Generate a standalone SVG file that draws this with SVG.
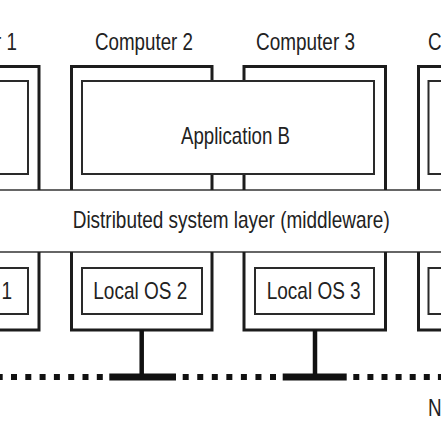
<svg xmlns="http://www.w3.org/2000/svg" width="441" height="441" viewBox="0 0 441 441">
  <style>
    .outer { fill: none; stroke: #1c1c1c; stroke-width: 3; stroke-linejoin: miter; }
    .inner { fill: #fff; stroke: #2a2a2a; stroke-width: 2; }
    .layer { fill: none; stroke: #333; stroke-width: 1.5; }
    .lbl { font-family: "Liberation Sans", Arial, sans-serif; font-size: 24px; fill: #222; }
    .wire { stroke: #111; fill: none; }
    .net { stroke: #111; stroke-width: 6; fill: none; }
  </style>
  <rect x="0" y="0" width="441" height="441" fill="#fff"/>

  <g id="middleware">
    <line class="layer" x1="0" y1="190" x2="441" y2="190"/>
    <line class="layer" x1="0" y1="252" x2="441" y2="252"/>
    <text class="lbl" x="72.7" y="228" textLength="317" lengthAdjust="spacingAndGlyphs">Distributed system layer (middleware)</text>
  </g>

  <g id="computer1">
    <path class="outer" d="M-102,190 V66.5 H39 V190"/>
    <rect class="inner" x="-91" y="81" width="119" height="93"/>
    <path class="outer" d="M-102,252 V330 H39 V252"/>
    <rect class="inner" x="-91" y="268" width="119" height="46"/>
    <text class="lbl" x="-81" y="49.5" textLength="98" lengthAdjust="spacingAndGlyphs">Computer 1</text>
    <text class="lbl" x="-82" y="299" textLength="94" lengthAdjust="spacingAndGlyphs">Local OS 1</text>
  </g>

  <g id="computer2">
    <path class="outer" d="M71.5,190 V66.5 H212 V190"/>
    <path class="outer" d="M71.5,252 V330 H212 V252"/>
    <rect class="inner" x="82" y="268" width="120" height="46"/>
    <text class="lbl" x="95" y="49.5" textLength="98" lengthAdjust="spacingAndGlyphs">Computer 2</text>
    <text class="lbl" x="93.3" y="299" textLength="94" lengthAdjust="spacingAndGlyphs">Local OS 2</text>
  </g>

  <g id="computer3">
    <path class="outer" d="M244,190 V66.5 H385.5 V190"/>
    <path class="outer" d="M244,252 V330 H385.5 V252"/>
    <rect class="inner" x="255" y="268" width="119" height="46"/>
    <text class="lbl" x="256" y="49.5" textLength="99" lengthAdjust="spacingAndGlyphs">Computer 3</text>
    <text class="lbl" x="266.7" y="299" textLength="94" lengthAdjust="spacingAndGlyphs">Local OS 3</text>
  </g>

  <g id="computer4">
    <path class="outer" d="M418.5,190 V66.5 H560 V190"/>
    <rect class="inner" x="428.5" y="81" width="120" height="93"/>
    <path class="outer" d="M418.5,252 V330 H560 V252"/>
    <rect class="inner" x="428.5" y="268" width="120" height="46"/>
    <text class="lbl" x="428" y="49.5" textLength="98" lengthAdjust="spacingAndGlyphs">Computer 4</text>
  </g>

  <g id="applicationB">
    <rect class="inner" x="82" y="81" width="292" height="93"/>
    <text class="lbl" x="181" y="143.5" textLength="109" lengthAdjust="spacingAndGlyphs">Application B</text>
  </g>

  <g id="network">
    <line class="net" x1="-3.3" y1="377" x2="103" y2="377" stroke-dasharray="6 8.3"/>
    <line class="net" x1="182.7" y1="377" x2="277" y2="377" stroke-dasharray="6 8.55"/>
    <line class="net" x1="353.3" y1="377" x2="441" y2="377" stroke-dasharray="6 8.1"/>
    <text class="lbl" x="428" y="416" textLength="69" lengthAdjust="spacingAndGlyphs">Network</text>
  </g>

  <g id="connectors">
    <line class="wire" stroke-width="4.5" x1="141.7" y1="330" x2="141.7" y2="377"/>
    <line class="wire" stroke-width="7" x1="109.3" y1="377" x2="176" y2="377"/>
    <line class="wire" stroke-width="4.5" x1="315" y1="330" x2="315" y2="377"/>
    <line class="wire" stroke-width="7" x1="282.7" y1="377" x2="346.7" y2="377"/>
  </g>
</svg>
